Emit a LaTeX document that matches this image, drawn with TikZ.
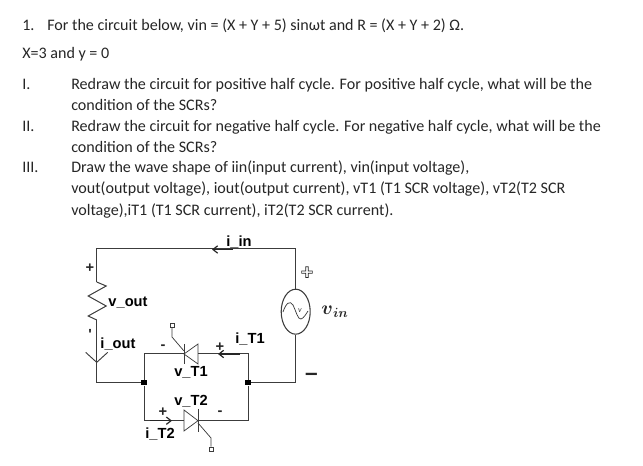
\documentclass[tikz,border=0pt]{standalone}
\usepackage{amsmath}
\usepackage{fontspec}
\setmainfont{Carlito}
\newfontfamily\lblfont{Liberation Sans}
\usetikzlibrary{shapes,shapes.geometric,arrows.meta,positioning}
\definecolor{wire}{HTML}{3C3C3C}
\definecolor{ink}{HTML}{262626}
\tikzset{txt/.style={anchor=base west, inner sep=0pt, text=ink, font=\fontsize{12.05}{14}\selectfont}}
\tikzset{lbl/.style={inner sep=0pt, text=black, font=\lblfont\bfseries\fontsize{11}{12}\selectfont}}
\tikzset{sgn/.style={inner sep=0pt, text=ink, font=\lblfont\bfseries\fontsize{11}{12}\selectfont}}
\tikzstyle{wr}=[draw=wire, line width=0.75pt]
\tikzstyle{thin wr}=[draw=wire, line width=0.55pt]
\tikzstyle{dot}=[fill=black, inner sep=0pt, minimum size=4pt, rectangle]
\tikzstyle{gate}=[draw=wire, fill=white, line width=0.6pt, inner sep=0pt, minimum size=3pt, rectangle]
\tikzstyle{barb}=[-{Straight Barb[length=3.5pt,width=5.5pt]}, draw=ink, line width=0.9pt]
\tikzstyle{bigbarb}=[-{Straight Barb[length=7.5pt,width=16.5pt]}, draw=wire, line width=0.7pt]

\begin{document}
\begin{tikzpicture}[x=0.75pt, y=-0.75pt]
\useasboundingbox (0,0) rectangle (643,466);

% question text
\node[txt] (N1) at (22,31) {1.};
\node[txt] (Q1) at (47,31) {For the circuit below, vin = (X + Y + 5) sinωt and R = (X + Y + 2) Ω.};
\node[txt] (Q2) at (22,59) {X=3 and y = 0};
\node[txt] (R1) at (22,90) {I.};
\node[txt] (L1) at (71,90) {Redraw the circuit for positive half cycle. For positive half cycle, what will be the};
\node[txt] (L2) at (71,111) {condition of the SCRs?};
\node[txt] (R2) at (22,132) {II.};
\node[txt] (L3) at (71,132) {Redraw the circuit for negative half cycle. For negative half cycle, what will be the};
\node[txt] (L4) at (71,153) {condition of the SCRs?};
\node[txt] (R3) at (22,173) {III.};
\node[txt] (L5) at (71,173) {Draw the wave shape of iin(input current), vin(input voltage),};
\node[txt] (L6) at (71,194) {vout(output voltage), iout(output current), vT1 (T1 SCR voltage), vT2(T2 SCR};
\node[txt] (L7) at (71,216) {voltage),iT1 (T1 SCR current), iT2(T2 SCR current).};

% circuit corners
\coordinate (TL) at (96.7,249);
\coordinate (TR) at (295.7,249);
\coordinate (BL) at (96.7,382.7);
\coordinate (BR) at (295.7,382.7);
\coordinate (Ra) at (96.7,282);
\coordinate (Rb) at (96.7,320);
\node[dot] (J1) at (144,382.7) {};
\node[dot] (J2) at (248,382.7) {};
\coordinate (T1L) at (144,354);
\coordinate (T1R) at (248,354);
\coordinate (T2L) at (144,420.7);
\coordinate (T2R) at (248,420.7);
\coordinate (T1k) at (184,354);
\coordinate (T1a) at (198,354);
\coordinate (T2a) at (184,420.7);
\coordinate (T2k) at (198,420.7);
\node[gate] (G1) at (172,325) {};
\node[gate] (G2) at (211,449) {};

% source
\node[draw=wire, line width=0.8pt, ellipse, inner sep=0pt, minimum width=21.75pt, minimum height=33.75pt] (VS) at (295.7,311.7) {};
\node[inner sep=0pt, text=wire, font=\itshape\fontsize{6}{6}\selectfont] (VSv) at (300,311) {v};

% wires
\draw[wr] (VS.north) -- (TR) -- (TL) -- (Ra);
\draw[wr] (Rb) -- (BL) -- (J1);
\draw[wr] (VS.south) -- (BR) -- (J2);
\draw[wr] (T1k) -- (T1L) -- (J1) -- (T2L) -- (T2a);
\draw[wr] (T1a) -- (T1R) -- (J2) -- (T2R) -- (T2k);

% resistor
\draw[wr] (Ra) -- ++(9.5,4) -- ++(-18,10) -- ++(18,10) -- ++(-18,10) -- (Rb);

% scr T1
\draw[thin wr] (T1k) -- (T1a |- 0,344) -- (T1a |- 0,364) -- cycle;
\draw[thin wr] (184,344) -- (184,364);
\draw[thin wr] (G1) -- (172,337) -- (184,351);
% scr T2
\draw[thin wr] (T2k) -- (T2a |- 0,410) -- (T2a |- 0,431) -- cycle;
\draw[thin wr] (198,409) -- (198,432);
\draw[thin wr] (198,423) -- (211,438) -- (G2);

% source sine
\draw[thin wr] (283,312) .. controls (286,303) and (290,300) .. (293,305) .. controls (296,311) and (298,320) .. (301,319) .. controls (304,318) and (306,314) .. (308,311);

% current arrows
\coordinate (IinS) at (233,249.5);
\coordinate (IinE) at (212,249.5);
\coordinate (I1S) at (240,354);
\coordinate (I1E) at (218,354);
\coordinate (I2S) at (150,420.7);
\coordinate (I2E) at (172,420.7);
\coordinate (IoS) at (96.7,345);
\coordinate (IoE) at (96.7,363);
\draw[barb] (IinS) -- (IinE);
\draw[barb] (I1S) -- (I1E);
\draw[barb] (I2S) -- (I2E);
\draw[bigbarb] (IoS) -- (IoE);

% labels
\node[lbl] (Lin) at (239,242) {i\_in};
\node[lbl] (Lout) at (128,303) {v\_out};
\node[lbl] (Liout) at (118,344) {i\_out};
\node[lbl] (LvT1) at (191,372) {v\_T1};
\node[lbl] (LiT1) at (250,339) {i\_T1};
\node[lbl] (LvT2) at (191,401) {v\_T2};
\node[lbl] (LiT2) at (160,434) {i\_T2};
\node[inner sep=0pt, text=ink, font=\fontsize{14}{14}\selectfont] (Lvin) at (335,312) {$\boldsymbol{v}_{\boldsymbol{in}}$};

% polarity marks
\node[sgn] (Pr) at (90,268) {+};
\node[sgn] (Mr) at (90,334) {'};
\node[sgn] (M1) at (163,347) {-};
\node[sgn] (P1) at (220,347) {+};
\node[sgn] (P2) at (163,412) {+};
\node[sgn] (M2) at (220,413) {-};
\node[sgn, font=\lblfont\bfseries\fontsize{16}{16}\selectfont] (Ps) at (307,273) {\special{pdf:code 1 Tr 0.5 w}+\special{pdf:code 0 Tr}};
\node[sgn, font=\lblfont\bfseries\fontsize{17}{17}\selectfont] (Ms) at (311.5,377) {–};
\end{tikzpicture}
\end{document}
